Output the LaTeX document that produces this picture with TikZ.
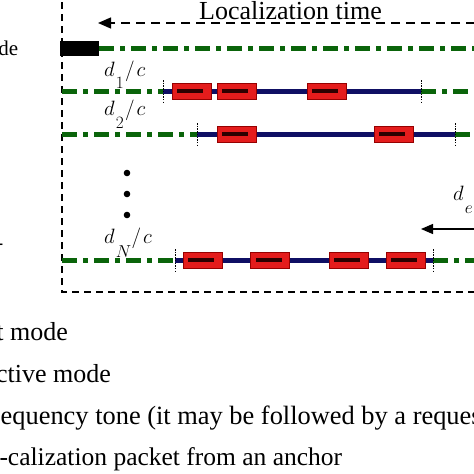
\documentclass[tikz,border=0pt]{standalone}
\usepackage{fontspec}
\setmainfont{Liberation Serif}
\usetikzlibrary{arrows.meta}
\definecolor{gr}{RGB}{10,100,10}
\definecolor{nv}{RGB}{15,15,100}
\definecolor{rd}{RGB}{228,28,28}
\definecolor{rdb}{RGB}{150,0,0}
\definecolor{barc}{RGB}{45,0,0}
\newcommand\subf{\fontsize{18}{18}\selectfont}
\begin{document}
\begin{tikzpicture}[x=1pt,y=-1pt,
  greenline/.style={draw=gr, line width=5pt, dash pattern=on 15pt off 6pt on 5pt off 6pt},
  navyline/.style={draw=nv, line width=5pt},
  tickline/.style={draw=black, line width=0.8pt, dash pattern=on 1.5pt off 1.2pt},
  pkt/.style={draw=rdb, fill=rd, line width=0.8pt, minimum width=39pt, minimum height=16pt, inner sep=0pt,
    path picture={\fill[barc] ([xshift=-14.5pt,yshift=-2.3pt]path picture bounding box.center) rectangle ([xshift=11.5pt,yshift=2.3pt]path picture bounding box.center);}},
  framel/.style={draw=black, line width=1.4pt, dash pattern=on 7pt off 5pt},
  timearrow/.style={draw=black, line width=1.3pt, dash pattern=on 9pt off 6pt, -{Triangle[length=13pt,width=11pt]}},
  dearrow/.style={draw=black, line width=1.3pt, -{Triangle[length=12pt,width=10pt]}},
  mlbl/.style={font=\fontsize{20.5}{24}\selectfont, inner sep=0pt},
  legend/.style={font=\fontsize{26}{30}\selectfont, inner sep=0pt, anchor=base west},
  dotc/.style={fill=black}
]
\useasboundingbox (0,0) rectangle (474,474);
\clip (0,0) rectangle (474,474);

% frame
\coordinate (fTop) at (62,-10);
\coordinate (fCorner) at (62,292);
\coordinate (fRight) at (490,292);
\draw[framel] (fTop) -- (fCorner) -- (fRight);

% localization time arrow
\coordinate (taS) at (490,23);
\coordinate (taE) at (98,23);
\draw[timearrow] (taS) -- (taE);
\node[font=\fontsize{26}{30}\selectfont, inner sep=0pt, anchor=base west] (lt) at (199,19.5) {Localization time};

% row 1
\node[fill=black, minimum width=39pt, minimum height=15pt, inner sep=0pt] (blk) at (79.5,48.5) {};
\coordinate (e1) at (490,48);
\draw[greenline] (blk.east |- 0,48) -- (e1);

% row 2
\coordinate (s2) at (62,91);
\coordinate (t2a) at (163,91);
\coordinate (t2b) at (421,91);
\coordinate (e2) at (490,91);
\draw[greenline] (s2) -- (t2a);
\draw[navyline] (t2a) -- (t2b);
\draw[greenline] (t2b) -- (e2);
\node[pkt] (p21) at (191.5,91) {};
\node[pkt] (p22) at (236.5,91) {};
\node[pkt] (p23) at (326.5,91) {};
\draw[tickline] ([yshift=11pt]t2a) -- ([yshift=-11pt]t2a);
\draw[tickline] ([yshift=11pt]t2b) -- ([yshift=-11pt]t2b);

% row 3
\coordinate (s3) at (62,134);
\coordinate (t3a) at (197,134);
\coordinate (t3b) at (455,134);
\coordinate (e3) at (490,134);
\draw[greenline] (s3) -- (t3a);
\draw[navyline] (t3a) -- (t3b);
\draw[greenline] (t3b) -- (e3);
\node[pkt] (p31) at (236.5,134) {};
\node[pkt] (p32) at (393.5,134) {};
\draw[tickline] ([yshift=11pt]t3a) -- ([yshift=-11pt]t3a);
\draw[tickline] ([yshift=11pt]t3b) -- ([yshift=-11pt]t3b);

% row N
\coordinate (sN) at (62,260);
\coordinate (tNa) at (175,260);
\coordinate (tNb) at (433,260);
\coordinate (eN) at (490,260);
\draw[greenline] (sN) -- (tNa);
\draw[navyline] (tNa) -- (tNb);
\draw[greenline] (tNb) -- (eN);
\node[pkt] (pN1) at (202.5,260) {};
\node[pkt] (pN2) at (270,260) {};
\node[pkt] (pN3) at (348.5,260) {};
\node[pkt] (pN4) at (405.5,260) {};
\draw[tickline] ([yshift=11pt]tNa) -- ([yshift=-11pt]tNa);
\draw[tickline] ([yshift=11pt]tNb) -- ([yshift=-11pt]tNb);

% labels
\node[mlbl, anchor=base west] (l1) at (104,76) {$d\kern1pt\lower12pt\hbox{\subf$1$}\kern1.5pt/\kern2pt c$};
\node[mlbl, anchor=base west] (l2) at (104,115) {$d\kern1pt\lower13pt\hbox{\subf$2$}\kern1.5pt/\kern2pt c$};
\node[mlbl, anchor=base west] (lN) at (104,243) {$d\kern1pt\lower14pt\hbox{\subf$N$}\kern0.5pt/\kern2pt c$};

% dots
\fill[dotc] (127,173) circle (3.3pt);
\fill[dotc] (127,194) circle (3.3pt);
\fill[dotc] (127,215) circle (3.3pt);

% d_e arrow
\coordinate (daS) at (490,229);
\coordinate (daE) at (421,229);
\draw[dearrow] (daS) -- (daE);
\node[mlbl, anchor=base west] (dE) at (453,200) {$d\kern1pt\lower13pt\hbox{\subf$e$}$};

% left cut texts
\node[font=\fontsize{21}{25}\selectfont, inner sep=0pt, anchor=base east] (de) at (18.5,55) {de};
\node[font=\fontsize{20}{24}\selectfont, inner sep=0pt, anchor=base east] (hy) at (3.5,249) {-};

% legend
\node[legend] (g1) at (-3.7,340) {t mode};
\node[legend] (g2) at (-4,382) {ctive mode};
\node[legend, font=\fontsize{26.4}{30}\selectfont] (g3) at (0.5,424) {equency tone (it may be followed by a request};
\node[legend, font=\fontsize{25.5}{30}\selectfont] (g4) at (-0.7,465) {-calization packet from an anchor};
\end{tikzpicture}
\end{document}
